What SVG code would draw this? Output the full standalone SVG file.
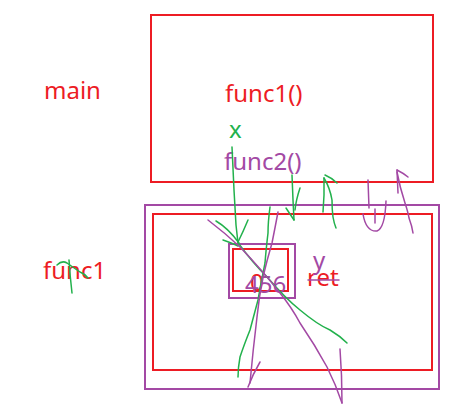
<svg xmlns="http://www.w3.org/2000/svg" width="466" height="420" viewBox="0 0 466 420">
<style>
.t{font-family:"Noto Sans","Open Sans","DejaVu Sans",sans-serif;font-size:24px}
.r{fill:#ED1C24}.p{fill:#A349A4}.g{fill:#22B14C}
.br{fill:none;stroke:#ED1C24;stroke-width:2}
.bp{fill:none;stroke:#A349A4;stroke-width:2}
.lg{fill:none;stroke:#22B14C;stroke-width:1.5;stroke-linecap:round;stroke-linejoin:round}
.lp{fill:none;stroke:#A349A4;stroke-width:1.5;stroke-linecap:round;stroke-linejoin:round}
</style>
<rect width="466" height="420" fill="#fff"/>
<g id="main-frame">
<rect class="br" x="151" y="15" width="282" height="167"/>
<text class="t r" x="44" y="99">main</text>
<text class="t r" x="225" y="102">func1()</text>
<text class="t g" x="229" y="138">x</text>
<text class="t p" x="224" y="170">func2()</text>
</g>
<g id="func-frame">
<rect class="bp" x="145" y="205" width="294" height="184"/>
<rect class="br" x="153" y="214" width="279" height="156"/>
<text class="t r" x="43" y="279">func1</text>
</g>
<g id="var-box">
<rect class="bp" x="229" y="244" width="66" height="54"/>
<rect class="br" x="233" y="249" width="55" height="42"/>
<text class="t r" x="250" y="291">0</text>
<text class="t p" x="245" y="293">456</text>
</g>
<g id="ret-label">
<text class="t r" x="307" y="286">ret</text>
<text class="t p" x="313" y="269">y</text>
<path class="lp" d="M308,280 L339,280"/>
</g>
<g id="connectors">
<path class="lg" d="M232,147 L234,190 L236,225 L238,243"/>
<path class="lg" d="M216,221 Q228,228 239,243"/>
<path class="lg" d="M248,220 Q243,232 238,242"/>
<path class="lg" d="M223,240 Q232,243 238,246"/>
<path class="lg" d="M239,244 Q252,262 268,278 Q285,298 300,310 Q318,325 330,330 Q340,336 347,343"/>
<path class="lg" d="M270,207 Q268,222 268,233 Q266,250 265,263 Q261,283 258,300 Q254,315 250,330 Q244,345 240,357 Q238,368 238,377"/>
<path class="lg" d="M292,175 L293,200 L294,220"/>
<path class="lg" d="M286,208 Q290,214 294,220"/>
<path class="lg" d="M300,188 Q296,200 295,210"/>
<path class="lg" d="M323,212 L324,195 L324,178"/>
<path class="lg" d="M325,175 Q332,178 337,183"/>
<path class="lg" d="M324,178 Q330,188 332,200 Q332,210 333,217 Q334,223 336,228"/>
<path class="lg" d="M69,260 Q70,276 72,293"/>
<path class="lg" d="M57,265 Q62,260 67,263 Q74,268 80,272 Q85,274 88,278"/>
<path class="lp" d="M208,220 Q225,233 240,247 Q262,270 280,293 Q292,308 300,323 Q315,345 327,367 Q336,385 342,403"/>
<path class="lp" d="M278,212 Q275,228 272,243 Q267,260 263,277 Q259,297 257,317 Q253,350 250,383"/>
<path class="lp" d="M260,362 Q253,374 248,387"/>
<path class="lp" d="M340,349 Q342,375 342,403"/>
<path class="lp" d="M368,180 L369,208"/>
<path class="lp" d="M363,214 Q366,232 377,231 Q385,228 386,201"/>
<path class="lp" d="M375,209 L375,223"/>
<path class="lp" d="M398,193 L397,170"/>
<path class="lp" d="M397,170 Q403,173 408,177"/>
<path class="lp" d="M397,172 Q400,188 405,203 Q408,212 409,218 Q412,226 413,233"/>
</g>
</svg>
